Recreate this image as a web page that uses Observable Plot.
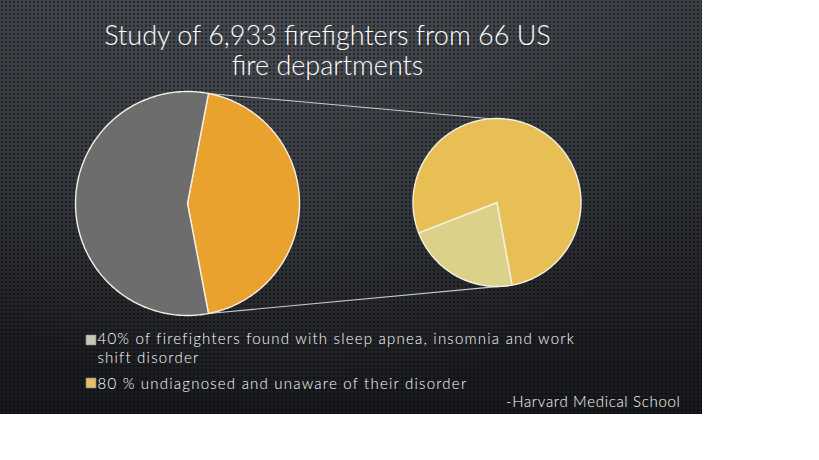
<!DOCTYPE html>
<html>
<head>
<meta charset="utf-8">
<script src="https://cdn.jsdelivr.net/npm/d3@7"></script>
<script src="https://cdn.jsdelivr.net/npm/@observablehq/plot@0.6"></script>
<style>
  html, body { margin: 0; padding: 0; background: #ffffff; }
  #wrap { position: relative; width: 819px; height: 460px; }
  #bg {
    position: absolute; left: 0; top: 0; width: 702px; height: 414px;
    background-image:
      radial-gradient(circle at 50% 50%, rgba(0,0,0,0.45) 0.9px, rgba(0,0,0,0) 1.6px),
      radial-gradient(ellipse at 40% 10%, rgba(80,85,92,0.55) 0%, rgba(0,0,0,0) 70%),
      linear-gradient(180deg, #3c4046 0%, #2d3035 45%, #1d1e22 80%, #18191c 100%);
    background-size: 4px 4px, 100% 100%, 100% 100%;
  }
  #chart { position: absolute; left: 0; top: 0; }
  svg { background: transparent !important; }
</style>
</head>
<body>
<div id="wrap"><div id="bg"></div><div id="chart"></div></div>
<script>
// ---- data ----
const titleLines = ["Study of 6,933 firefighters from 66 US", "fire departments"];
const mainCategories = ["Other firefighters", "Found with sleep disorder"];
const mainValues = [56, 44];
const mainColors = ["#6d6d6d", "#e9a22d"];
const subCategories = ["Undiagnosed and unaware", "Diagnosed"];
const subValues = [78, 22];
const subColors = ["#e8bf55", "#dcd189"];
const legendLines = [
  "40% of firefighters found with sleep apnea, insomnia and work",
  "shift disorder",
  "80 % undiagnosed and unaware of their disorder"
];
const legendSwatches = ["#c8c9b4", "#e8c055"];
const sourceText = "-Harvard Medical School";

// ---- layout ----
const W = 819, H = 460;
const pie1 = {cx: 187, cy: 203, r: 112, start: 90 - (mainValues[1] / d3.sum(mainValues)) * 180};
const pie2 = {cx: 496.5, cy: 202, r: 84, start: 169.6};

function pt(p, deg, r) {
  const a = deg * Math.PI / 180;
  return [p.cx + (r ?? p.r) * Math.sin(a), p.cy - (r ?? p.r) * Math.cos(a)];
}
function slices(p, values, categories, order) {
  const total = d3.sum(values);
  const out = [];
  let ang = p.start;
  for (const i of order) {
    const span = values[i] / total * 360;
    const pts = [[p.cx, p.cy]];
    const n = Math.max(2, Math.ceil(span));
    for (let k = 0; k <= n; k++) pts.push(pt(p, ang + span * k / n));
    pts.push([p.cx, p.cy]);
    for (const [x, y] of pts) out.push({x, y, key: categories[i], idx: i});
    ang += span;
  }
  return out;
}
// main pie: "sleep disorder" slice (index 1) centred on the right, then the rest
const main = slices(pie1, mainValues, mainCategories, [1, 0]);
// second pie: diagnosed (index 1) first from its start angle, then undiagnosed
const sub = slices(pie2, subValues, subCategories, [1, 0]);

const orangeSpan = mainValues[1] / d3.sum(mainValues) * 360;
const [t1x, t1y] = pt(pie1, pie1.start);
const [b1x, b1y] = pt(pie1, pie1.start + orangeSpan);
const [t2x, t2y] = pt(pie2, -4.4);
const [b2x, b2y] = pt(pie2, 170);
const connectors = [
  {x: t1x, y: t1y, g: "top"}, {x: t2x, y: t2y, g: "top"},
  {x: b1x, y: b1y, g: "bottom"}, {x: b2x, y: b2y, g: "bottom"}
];

const font = "Lato, 'Open Sans', sans-serif";
const titleData = titleLines.map((t, i) => ({t, x: 327, y: [36, 66][i]}));
const legendData = legendLines.map((t, i) => ({t, x: 97, y: [339, 357.5, 383.2][i]}));
const swatchData = legendSwatches.map((c, i) => ({c, x: 90.5, y: [339.5, 382.5][i]}));

const plot = Plot.plot({
  width: W, height: H,
  margin: 0,
  x: {domain: [0, W], range: [0, W], axis: null},
  y: {domain: [0, H], range: [0, H], axis: null},
  style: {background: "transparent", fontFamily: font},
  marks: [
    Plot.line(connectors, {x: "x", y: "y", z: "g", stroke: "#c9cacc", strokeWidth: 1.1}),
    Plot.line(main, {x: "x", y: "y", z: "key", fill: d => mainColors[d.idx], stroke: "#f4f1e4", strokeWidth: 1.4, curve: "linear"}),
    Plot.line(sub, {x: "x", y: "y", z: "key", fill: d => subColors[d.idx], stroke: "#f4f1e4", strokeWidth: 1.4, curve: "linear"}),
    Plot.text(titleData, {x: "x", y: "y", text: "t", fill: "#ffffff", fontSize: 27, fontWeight: 300, textAnchor: "middle"}),
    Plot.text(legendData, {x: "x", y: "y", text: "t", fill: "#ffffff", fontSize: 15, fontWeight: 300, textAnchor: "start"}),
    Plot.dot(swatchData, {x: "x", y: "y", fill: "c", symbol: "square", r: 5.4, stroke: "#b8b8b8", strokeWidth: 0.8}),
    Plot.text([sourceText], {x: 680, y: 401.2, text: d => d, fill: "#ffffff", fontSize: 15, fontWeight: 300, textAnchor: "end"})
  ]
});
// widen the legend and source lettering to match the reference's wide typeface
d3.select(plot).selectAll("text")
  .filter(function() { return legendLines.includes(this.textContent); })
  .attr("letter-spacing", "1.22").style("letter-spacing", "1.22px");
d3.select(plot).selectAll("text")
  .filter(function() { return this.textContent === sourceText; })
  .attr("letter-spacing", "0.68").style("letter-spacing", "0.68px");
document.getElementById("chart").appendChild(plot);
</script>
</body>
</html>
